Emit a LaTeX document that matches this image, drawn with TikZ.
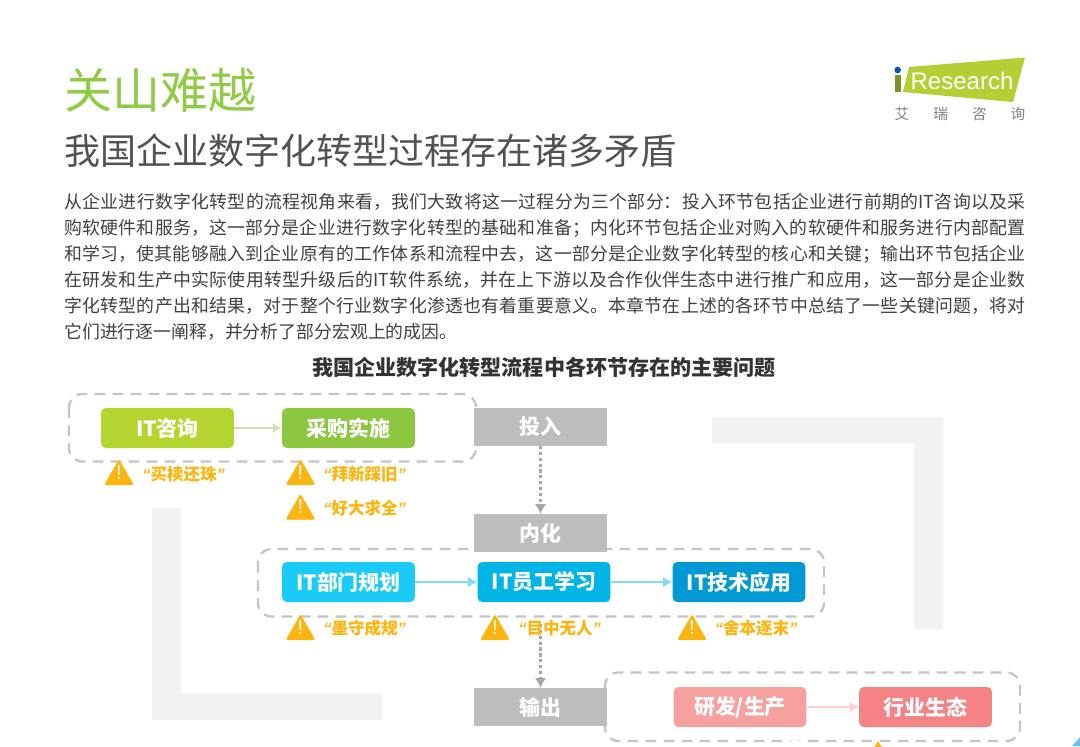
\documentclass[tikz,border=0pt]{standalone}
\usepackage{fontspec}
\setmainfont{Noto Sans CJK SC}
\setsansfont{Liberation Sans}
\usetikzlibrary{positioning,arrows.meta,shapes.geometric}
\XeTeXlinebreaklocale "zh"
\XeTeXlinebreakskip=0pt plus 1pt
\definecolor{titlegreen}{HTML}{8FCB45}
\definecolor{logogreen}{HTML}{B2CF33}
\definecolor{bargray}{HTML}{BDBDBD}
\definecolor{palegray}{HTML}{F2F2F2}
\definecolor{warnorange}{HTML}{FDB40F}
\newcommand{\figquotes}[1]{{\sffamily\itshape “}#1{\sffamily\itshape ”}}
\newcommand{\figbang}{\makebox[0pt]{\smash{\raisebox{-2pt}{!}}}}
\tikzset{
  figbox/.style={rounded corners=3.5pt, minimum width=99.5pt, minimum height=30pt, inner sep=0pt,
    text=white, font=\fontsize{15.7}{18}\selectfont\bfseries},
  figbar/.style={fill=bargray, minimum width=100pt, minimum height=28pt, inner sep=0pt,
    text=white, font=\fontsize{15.7}{18}\selectfont\bfseries},
  figgroup/.style={draw=black!23, line width=1.7pt, dash pattern=on 8pt off 5.5pt, rounded corners=10pt},
  figarrow/.style={-{Latex[length=7pt,width=8pt]}, line width=2.2pt},
  figdots/.style={-{Latex[length=7.5pt,width=8.5pt]}, draw=black!35, line width=2.5pt, dash pattern=on 2.4pt off 2pt},
  figwarn/.style={regular polygon, regular polygon sides=3, fill=warnorange, draw=warnorange, rounded corners=1pt,
    minimum size=25pt, inner sep=0pt, text=white, font=\sffamily\fontsize{15}{15}\selectfont},
  figquote/.style={text=warnorange, inner sep=0pt, anchor=west, font=\fontsize{12.4}{14}\selectfont\bfseries},
}
\begin{document}
\begin{tikzpicture}[x=0.75pt,y=-0.75pt]
  \useasboundingbox (0,0) rectangle (1080,746);
  % header
  \node[anchor=west, inner sep=0pt, text=titlegreen, font=\fontsize{36}{40}\selectfont] (title) at (64,90) {关山难越};
  \node[anchor=west, inner sep=0pt, text=black!68, font=\fontsize{27}{32}\selectfont] (subtitle) at (64,151) {我国企业数字化转型过程存在诸多矛盾};
  \node[anchor=north west, inner sep=0pt, text width=721pt, align=justify, text=black!75,
    font=\fontsize{13.4}{19.4}\selectfont] (body) at (64,193.5) {从企业进行数字化转型的流程视角来看，我们大致将这一过程分为三个部分：投入环节包括企业进行前期的IT咨询以及采\linebreak
    购软硬件和服务，这一部分是企业进行数字化转型的基础和准备；内化环节包括企业对购入的软硬件和服务进行内部配置\linebreak
    和学习，使其能够融入到企业原有的工作体系和流程中去，这一部分是企业数字化转型的核心和关键；输出环节包括企业\linebreak
    在研发和生产中实际使用转型升级后的IT软件系统，并在上下游以及合作伙伴生态中进行推广和应用，这一部分是企业数\linebreak
    字化转型的产出和结果，对于整个行业数字化渗透也有着重要意义。本章节在上述的各环节中总结了一些关键问题，将对\linebreak
    它们进行逐一阐释，并分析了部分宏观上的成因。};
  \node[inner sep=0pt, text=black!80, font=\fontsize{15.8}{18}\selectfont\bfseries] (charttitle) at (544,367) {我国企业数字化转型流程中各环节存在的主要问题};
  % logo
  \fill[logogreen] (909,67) -- (1025,57.5) -- (1013,102) -- (903,92) -- cycle;
  \fill[logogreen!70!black] (895,75) -- (901,75) -- (901,92) -- (895,92) -- cycle;
  \fill[blue!50!cyan!70!black] (897.7,70) circle (3.3);
  \node[inner sep=0pt, text=white, font=\sffamily\fontsize{18}{18}\selectfont] (logotext) at (962,81) {Research};
  \node[inner sep=0pt, text=black!50, font=\fontsize{11}{12}\selectfont] (logocn) at (960,114) {艾\hspace{18pt}瑞\hspace{18pt}咨\hspace{18pt}询};
  % pale background bends
  \fill[palegray] (152,508) -- (181,508) -- (181,693) -- (382,693) -- (382,720) -- (152,720) -- cycle;
  \fill[palegray] (712,417) -- (943,417) -- (943,629) -- (914,629) -- (914,443) -- (712,443) -- cycle;
  \fill[blue!40!cyan!60] (1072,746) -- (1080,737) -- (1080,746) -- cycle;
  % groups
  \draw[figgroup] (69,394) rectangle (476,461.5);
  \draw[figgroup] (258,549) rectangle (824,616.5);
  \draw[figgroup] (605,672.5) rectangle (1020,741);
  % stages
  \node[figbar] (input) at (540.5,427) {投入};
  \node[figbar] (inner) at (540.5,533) {内化};
  \node[figbar] (output) at (540.5,707) {输出};
  \coordinate (innerdots) at (540.5,624);
  \draw[figdots] (input) -- (inner);
  \draw[figdots] (innerdots) -- (output);
  % steps
  \node[figbox, fill={rgb,255:red,180;green,213;blue,47}] (consult) at (167.5,428) {IT咨询};
  \node[figbox, fill={rgb,255:red,141;green,198;blue,63}] (purchase) at (348.5,428) {采购实施};
  \node[figbox, fill={rgb,255:red,26;green,203;blue,247}] (plan) at (348.5,582) {IT部门规划};
  \node[figbox, fill={rgb,255:red,0;green,180;blue,230}] (learn) at (544,582) {IT员工学习};
  \node[figbox, fill={rgb,255:red,0;green,153;blue,211}] (apply) at (739,582) {IT技术应用};
  \node[figbox, fill={rgb,255:red,246;green,160;blue,160}] (rnd) at (740,707) {研发/生产};
  \node[figbox, fill={rgb,255:red,245;green,131;blue,134}] (ecosystem) at (925.5,707) {行业生态};
  \draw[figarrow, draw={rgb,255:red,200;green,230;blue,180}, fill={rgb,255:red,200;green,230;blue,180}] (consult) -- (purchase);
  \draw[figarrow, draw={rgb,255:red,128;green,220;blue,246}, fill={rgb,255:red,128;green,220;blue,246}] (plan) -- (learn);
  \draw[figarrow, draw={rgb,255:red,128;green,220;blue,246}, fill={rgb,255:red,128;green,220;blue,246}] (learn) -- (apply);
  \draw[figarrow, draw={rgb,255:red,251;green,208;blue,208}, fill={rgb,255:red,251;green,208;blue,208}] (rnd) -- (ecosystem);
  % warnings
  \node[figwarn] (warna) at (119,476.5) {\figbang};
  \node[figquote] (quotea) at (142,474) {\figquotes{买椟还珠}};
  \node[figwarn] (warnb) at (300.5,476.5) {\figbang};
  \node[figquote] (quoteb) at (323,474) {\figquotes{拜新踩旧}};
  \node[figwarn] (warnc) at (300.5,511) {\figbang};
  \node[figquote] (quotec) at (323,508) {\figquotes{好大求全}};
  \node[figwarn] (warnd) at (300.5,631.5) {\figbang};
  \node[figquote] (quoted) at (323,628) {\figquotes{墨守成规}};
  \node[figwarn] (warne) at (495,631.5) {\figbang};
  \node[figquote] (quotee) at (518,628) {\figquotes{目中无人}};
  \node[figwarn] (warnf) at (692,631.5) {\figbang};
  \node[figquote] (quotef) at (714.5,628) {\figquotes{舍本逐末}};
  % cut off by the lower edge
  \node[figwarn] (warng) at (878,758) {};
  \fill[white] (795,757) circle (17);
\end{tikzpicture}
\end{document}
